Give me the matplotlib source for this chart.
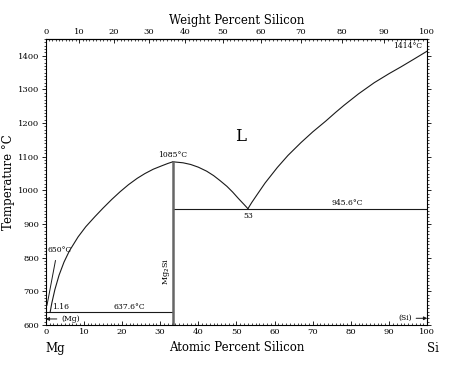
import matplotlib
matplotlib.use("Agg")
import matplotlib.pyplot as plt
import numpy as np
from matplotlib.ticker import MultipleLocator, FixedLocator

# liquidus branches, atomic percent Si vs temperature (deg C)
mg_side_at = [1.16, 1.6, 2.4, 3.5, 4.8, 6.2, 8.5, 10.5, 12.9, 15.0, 17.3, 19.5,
              21.7, 24.0, 26.0, 28.2, 30.4, 32.0, 33.33]
mg_side_t = [637.6, 665, 705, 748, 787, 820, 862, 892, 922, 947, 973, 996,
             1017, 1036, 1050, 1063, 1073, 1080, 1085]
mid_at = [33.33, 36.0, 38.0, 40.0, 42.2, 44.0, 45.7, 47.5, 49.0, 50.5, 52.0, 53.0]
mid_t = [1085, 1082, 1077, 1069, 1057, 1044, 1029, 1012, 995, 976, 958, 945.6]
si_side_at = [53.0, 54.0, 55.5, 57.5, 60.7, 63.5, 66.9, 70.0, 73.4, 76.0, 78.2,
              82.0, 86.1, 90.0, 93.1, 96.5, 100.0]
si_side_t = [945.6, 964, 989, 1022, 1068, 1104, 1142, 1174, 1206, 1232, 1253,
             1287, 1320, 1347, 1367, 1390, 1414]

# invariants
eut1_at, eut1_t = 1.16, 637.6
eut2_at, eut2_t = 53.0, 945.6
cmp_at, cmp_t = 33.33, 1085
mg_melt = 650

wt_ticks = list(range(0, 101, 10))

M_MG, M_SI = 24.305, 28.086


def at2wt(a):
    a = np.asarray(a, dtype=float)
    return 100 * a * M_SI / (a * M_SI + (100 - a) * M_MG)


def wt2at(w):
    w = np.asarray(w, dtype=float)
    return 100 * (w / M_SI) / (w / M_SI + (100 - w) / M_MG)


plt.rcParams["font.family"] = "DejaVu Serif"

fig = plt.figure(figsize=(4.74, 3.72), dpi=100)
ax = fig.add_axes([0.0964, 0.1263, 0.805, 0.769])

lc = "#1a1a1a"
ax.plot(mg_side_at, mg_side_t, color=lc, lw=0.8)
ax.plot(mid_at, mid_t, color=lc, lw=0.8)
ax.plot(si_side_at, si_side_t, color=lc, lw=0.8)
ax.plot([0, cmp_at], [eut1_t, eut1_t], color=lc, lw=0.8)
ax.plot([cmp_at, 100], [eut2_t, eut2_t], color=lc, lw=0.8)
ax.plot([cmp_at, cmp_at], [600, cmp_t], color="#666666", lw=1.8)

ax.set_xlim(0, 100)
ax.set_ylim(600, 1450)

ax.xaxis.set_major_locator(MultipleLocator(10))
ax.xaxis.set_minor_locator(MultipleLocator(1))
ax.yaxis.set_major_locator(MultipleLocator(100))
ax.yaxis.set_minor_locator(MultipleLocator(10))
ax.tick_params(axis="both", which="major", labelsize=6, length=3, width=0.6)
ax.tick_params(axis="both", which="minor", length=1.5, width=0.5)
ax.tick_params(axis="x", which="both", direction="in", top=False, pad=2)
ax.tick_params(axis="y", which="both", direction="out", right=True, pad=1.5)
for s in ax.spines.values():
    s.set_linewidth(0.8)

top = ax.secondary_xaxis("top", functions=(at2wt, wt2at))
top.xaxis.set_major_locator(FixedLocator(wt_ticks))
top.xaxis.set_minor_locator(FixedLocator(list(range(0, 101))))
top.tick_params(which="major", labelsize=6, length=3, width=0.6, direction="in", pad=2)
top.tick_params(which="minor", length=1.5, width=0.5, direction="in")
top.set_xlabel("Weight Percent Silicon", fontsize=8.5, labelpad=3)

ax.set_xlabel("Atomic Percent Silicon", fontsize=8.5, labelpad=4)
ax.set_ylabel("Temperature °C", fontsize=8.5, labelpad=2)

fs = 5.5
ax.text(cmp_at, cmp_t + 8, "1085°C", fontsize=fs, ha="center", va="bottom")
ax.text(eut2_at, eut2_t - 10, "53", fontsize=fs, ha="center", va="top")
ax.text(79, eut2_t + 4, "945.6°C", fontsize=fs, ha="center", va="bottom")
ax.text(98.8, 1418, "1414°C", fontsize=fs, ha="right", va="bottom")
ax.text(22, eut1_t + 4, "637.6°C", fontsize=fs, ha="center", va="bottom")
ax.text(1.6, eut1_t + 4, "1.16", fontsize=fs, ha="left", va="bottom")
ax.text(0.4, 812, "650°C", fontsize=fs, ha="left", va="bottom")
ax.annotate("", xy=(0.2, mg_melt), xytext=(2.7, 800),
            arrowprops=dict(arrowstyle="-", color=lc, lw=0.7))
ax.text(51, 1160, "L", fontsize=12, ha="center", va="center")
ax.text(31.6, 760, "Mg$_2$Si", fontsize=5.8, rotation=90, ha="center", va="center")

ax.annotate("(Mg)", xy=(0, 618), xytext=(4, 618), fontsize=fs, va="center",
            arrowprops=dict(arrowstyle="-|>", color=lc, lw=0.7, mutation_scale=5,
                            shrinkA=1, shrinkB=0))
ax.annotate("(Si)", xy=(100, 620), xytext=(96, 620), fontsize=fs, va="center", ha="right",
            arrowprops=dict(arrowstyle="-|>", color=lc, lw=0.7, mutation_scale=5,
                            shrinkA=1, shrinkB=0))

ax.text(0, -0.06, "Mg", transform=ax.transAxes, fontsize=8.5, ha="left", va="top")
ax.text(1.0, -0.06, "Si", transform=ax.transAxes, fontsize=8.5, ha="left", va="top")

fig.savefig("out.png", dpi=100, facecolor="white")
